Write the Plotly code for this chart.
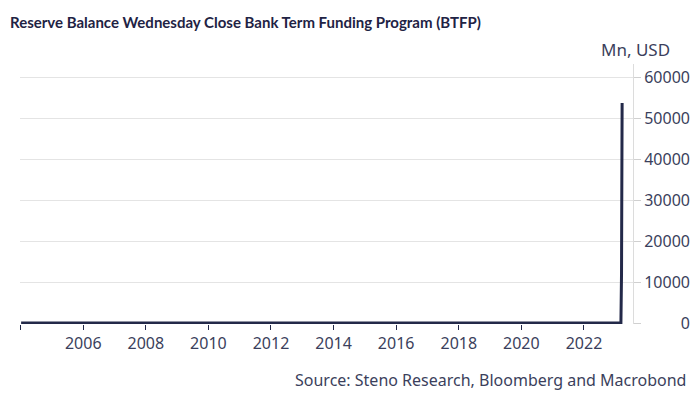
import plotly.graph_objects as go

dates = ["2004-01-07", "2023-03-08", "2023-03-15", "2023-03-22"]
values = [0, 0, 11943, 53669]

title_text = "Reserve Balance Wednesday Close Bank Term Funding Program (BTFP)"
unit_text = "Mn, USD"
source_text = "Source: Steno Research, Bloomberg and Macrobond"
ytick_vals = [0, 10000, 20000, 30000, 40000, 50000, 60000]
ytick_text = ["0", "10000", "20000", "30000", "40000", "50000", "60000"]
x_range = ["2003-12-25", "2023-07-27"]
y_range = [-240, 63170]

FS = "\u2007"
padded = [FS * (5 - len(t)) + t for t in ytick_text]

font_family = "Noto Sans"
text_color = "#3b3f5c"

L, R, T, B = 12, 75, 56, 84
PW, PH = 700 - L - R, 400 - T - B

fig = go.Figure()
fig.add_trace(go.Scatter(x=dates, y=values, mode="lines",
                         line=dict(color="#232949", width=3), showlegend=False))

fig.update_layout(
    template="none",
    width=700, height=400,
    margin=dict(l=L, r=R, t=T, b=B, pad=0, autoexpand=False),
    paper_bgcolor="white", plot_bgcolor="white",
    font=dict(family=font_family, color=text_color, size=16),
    xaxis=dict(type="date", range=x_range, automargin=False,
               dtick="M24", tick0="2006-01-01", tickformat="%Y",
               ticks="outside", ticklen=5, tickcolor="#232949", tickwidth=1,
               showgrid=False, zeroline=False, showline=False,
               tickfont=dict(size=16, color=text_color)),
    yaxis=dict(side="right", range=y_range, automargin=False,
               tickvals=ytick_vals, ticktext=padded,
               ticks="outside", ticklen=7, tickcolor="#d0d0d0",
               showgrid=True, gridcolor="#e4e4e4", gridwidth=1,
               zeroline=False, showline=True, linecolor="#dcdcdc", linewidth=1,
               tickfont=dict(size=16, color=text_color)),
)

fig.add_annotation(text="<b>" + title_text + "</b>", xref="paper", yref="paper",
                   x=(0 - L) / PW, y=1 + (T - 14) / PH, xanchor="left", yanchor="middle",
                   showarrow=False,
                   font=dict(size=15, color="#1f2344", family="Lato"))
fig.add_annotation(text=unit_text, xref="paper", yref="paper",
                   x=(664 - L) / PW, y=1 + (T - 42) / PH, xanchor="right", yanchor="middle",
                   showarrow=False, font=dict(size=17, color=text_color, family=font_family))
fig.add_annotation(text=source_text, xref="paper", yref="paper",
                   x=(680 - L) / PW, y=-(372 - (400 - B)) / PH, xanchor="right", yanchor="middle",
                   showarrow=False, font=dict(size=16, color=text_color, family=font_family))

fig.write_html("out.html")
